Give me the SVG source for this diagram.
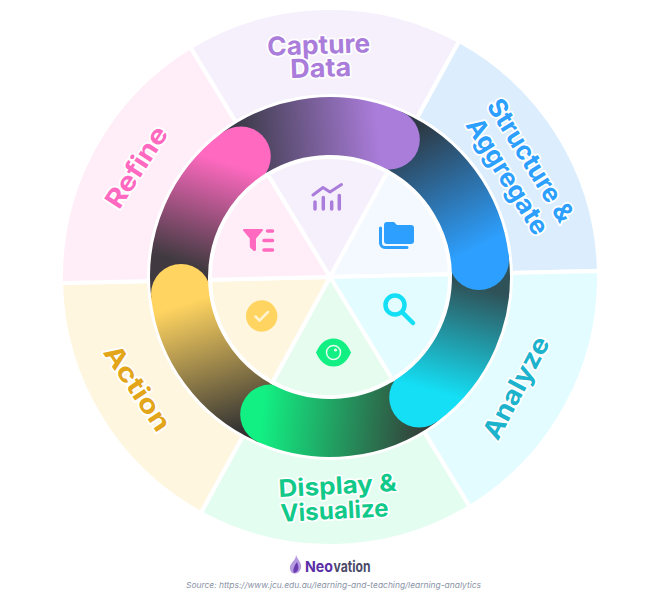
<svg xmlns="http://www.w3.org/2000/svg" width="660" height="605" viewBox="0 0 660 605">
<style>
.w{stroke:#fff;stroke-width:4;stroke-linejoin:miter}
.lab{font-family:Inter,"Liberation Sans",sans-serif;font-weight:700;font-size:26px;text-anchor:middle;stroke:#fff;stroke-width:3.5;stroke-linejoin:round;paint-order:stroke}
.arc{fill:none;stroke-width:60}
.src{font-family:Inter,"Liberation Sans",sans-serif;font-style:italic;font-size:8px;fill:#8a94a6}
.logo{font-family:Inter,"Liberation Sans",sans-serif;font-weight:700;font-size:15px}
</style>
<defs>
<path id="wo" d="M0,0L-134.500,-233A269,269 0 0 1 134.500,-233Z"/>
<path id="wi" d="M0,0L-60,-103.900A120,120 0 0 1 60,-103.900Z"/>
<linearGradient id="gp" gradientUnits="userSpaceOnUse" x1="240" y1="154" x2="380" y2="140"><stop offset="0" stop-color="#3b3a48"/><stop offset="1" stop-color="#ab7ddb"/></linearGradient>
<linearGradient id="gb" gradientUnits="userSpaceOnUse" x1="415" y1="130" x2="475" y2="250"><stop offset="0" stop-color="#2d3a45"/><stop offset="1" stop-color="#2da0ff"/></linearGradient>
<linearGradient id="gc" gradientUnits="userSpaceOnUse" x1="449.500" y1="280" x2="421" y2="388"><stop offset="0" stop-color="#2f5258"/><stop offset="1" stop-color="#14dff5"/></linearGradient>
<linearGradient id="gg" gradientUnits="userSpaceOnUse" x1="430" y1="431" x2="262" y2="414"><stop offset="0" stop-color="#363636"/><stop offset="1" stop-color="#12f083"/></linearGradient>
<linearGradient id="gy" gradientUnits="userSpaceOnUse" x1="225.500" y1="435" x2="184" y2="304"><stop offset="0" stop-color="#333"/><stop offset="1" stop-color="#ffd460"/></linearGradient>
<linearGradient id="gk" gradientUnits="userSpaceOnUse" x1="205" y1="270" x2="238" y2="166"><stop offset="0" stop-color="#403a40"/><stop offset="1" stop-color="#ff69c0"/></linearGradient>
</defs>
<rect width="660" height="605" fill="#fff"/>
<g id="connectors">
<use href="#wo" class="w" fill="#f6f0fc" transform="translate(330,277) rotate(-1.300)"/>
<use href="#wo" class="w" fill="#dceefe" transform="translate(330,277) rotate(58.700)"/>
<use href="#wo" class="w" fill="#e2fcff" transform="translate(330,277) rotate(118.700)"/>
<use href="#wo" class="w" fill="#e3fdf0" transform="translate(330,277) rotate(178.700)"/>
<use href="#wo" class="w" fill="#fff6e0" transform="translate(330,277) rotate(238.700)"/>
<use href="#wo" class="w" fill="#ffeef8" transform="translate(330,277) rotate(298.700)"/>
<circle cx="330" cy="277" r="183" fill="#fff"/>
<path class="arc" stroke="url(#gp)" d="M240.800,156.400A150,150 0 0 1 389.800,139.400"/>
<path class="arc" stroke="url(#gb)" d="M389.800,139.400A150,150 0 0 1 479,260"/>
<path class="arc" stroke="url(#gc)" d="M479,260A150,150 0 0 1 419.200,397.600"/>
<path class="arc" stroke="url(#gg)" d="M419.200,397.600A150,150 0 0 1 270.200,414.600"/>
<path class="arc" stroke="url(#gy)" d="M270.200,414.600A150,150 0 0 1 181,294"/>
<path class="arc" stroke="url(#gk)" d="M181,294A150,150 0 0 1 240.800,156.400"/>
<circle cx="389.800" cy="139.400" r="30" fill="url(#gp)"/>
<circle cx="479" cy="260" r="30" fill="url(#gb)"/>
<circle cx="419.200" cy="397.600" r="30" fill="url(#gc)"/>
<circle cx="270.200" cy="414.600" r="30" fill="url(#gg)"/>
<circle cx="181" cy="294" r="30" fill="url(#gy)"/>
<circle cx="240.800" cy="156.400" r="30" fill="url(#gk)"/>
<circle cx="330" cy="277" r="120" fill="#fff"/>
</g>
<g id="capture">
<use href="#wi" class="w" fill="#f6f0fc" transform="translate(330,277) rotate(-1.300)"/>
<text class="lab" fill="#ab7ddb" textLength="103" lengthAdjust="spacingAndGlyphs" transform="translate(319,54) rotate(-2)">Capture</text>
<text class="lab" fill="#ab7ddb" textLength="61" lengthAdjust="spacingAndGlyphs" transform="translate(321,77) rotate(-2)">Data</text>
<path d="M313,195L323,187.500L330,192L341.500,184.500" fill="none" stroke="#ab7ddb" stroke-width="3" stroke-linecap="round" stroke-linejoin="round"/>
<path d="M315,202V209M323.300,197.500V209M331.700,202V209M339.300,195.500V209" fill="none" stroke="#ab7ddb" stroke-width="3.500" stroke-linecap="round"/>
</g>
<g id="structure">
<use href="#wi" class="w" fill="#f3f9fe" transform="translate(330,277) rotate(58.700)"/>
<text class="lab" fill="#2da0ff" textLength="140" lengthAdjust="spacingAndGlyphs" transform="translate(523,165) rotate(58)">Structure &amp;</text>
<text class="lab" fill="#2da0ff" textLength="132" lengthAdjust="spacingAndGlyphs" transform="translate(500,181) rotate(58)">Aggregate</text>
<path d="M384,225a3,3 0 0 1 3,-3h7l3,3h14a3,3 0 0 1 3,3v13a3,3 0 0 1 -3,3h-24a3,3 0 0 1 -3,-3Z" fill="#2da0ff"/>
<path d="M380.500,228V243a4.500,4.500 0 0 0 4.500,4.500H407" fill="none" stroke="#2da0ff" stroke-width="3" stroke-linecap="round"/>
</g>
<g id="analyze">
<use href="#wi" class="w" fill="#e2fcff" transform="translate(330,277) rotate(118.700)"/>
<text class="lab" fill="#1db3cc" textLength="112" lengthAdjust="spacingAndGlyphs" transform="translate(524,392) rotate(-62)">Analyze</text>
<circle cx="395" cy="305" r="9.500" fill="none" stroke="#14dff5" stroke-width="4.500"/>
<path d="M403,313L413,323" stroke="#14dff5" stroke-width="4.500" stroke-linecap="round"/>
</g>
<g id="display">
<use href="#wi" class="w" fill="#e5fcef" transform="translate(330,277) rotate(178.700)"/>
<text class="lab" fill="#12c98a" textLength="118" lengthAdjust="spacingAndGlyphs" style="font-size:24px" transform="translate(338,494) rotate(-3)">Display &amp;</text>
<text class="lab" fill="#12c98a" textLength="108" lengthAdjust="spacingAndGlyphs" style="font-size:24px" transform="translate(335,519) rotate(-3)">Visualize</text>
<path d="M316,352.500Q322,338.500 333.500,338.500T351,352.500Q345,366.500 333.500,366.500T316,352.500Z" fill="#12f083"/>
<circle cx="333.500" cy="352.500" r="7" fill="none" stroke="#e5fcef" stroke-width="1.500"/>
<circle cx="335.500" cy="350" r="1.600" fill="#e5fcef"/>
</g>
<g id="action">
<use href="#wi" class="w" fill="#fff6e0" transform="translate(330,277) rotate(238.700)"/>
<text class="lab" fill="#e3a51a" textLength="98" lengthAdjust="spacingAndGlyphs" transform="translate(130,393) rotate(56)">Action</text>
<circle cx="261.700" cy="316" r="15.700" fill="#ffd460"/>
<path d="M255.500,316.500L259.500,320.500L268,312" fill="none" stroke="#fff3d0" stroke-width="2.500" stroke-linecap="round" stroke-linejoin="round"/>
</g>
<g id="refine">
<use href="#wi" class="w" fill="#ffeef8" transform="translate(330,277) rotate(298.700)"/>
<text class="lab" fill="#ff69c0" textLength="92" lengthAdjust="spacingAndGlyphs" transform="translate(144,172) rotate(-57)">Refine</text>
<path d="M244,229H262a1,1 0 0 1 .7,1.700L256,238.500V249.500a1.500,1.500 0 0 1 -2.500,1.200L250.500,248a2,2 0 0 1 -.7,-1.500V238.500L243.300,230.700a1,1 0 0 1 .7,-1.700Z" fill="#ff69c0"/>
<path d="M267.500,231H272.500M264,240.500H272.500M264,250H272.500" stroke="#ff69c0" stroke-width="3.500" stroke-linecap="round"/>
</g>
<g id="logo">
<path d="M296,555C298,560 302,563 301,568C300,572 297,574 294,573.500C291,573 289.500,570 290,566.500C291,562 296,560 296,555Z" fill="#b79be0"/>
<path d="M297,562C298,565 299,567 298,570C297,572 295,573 294,573C292.500,570 294,566 297,562Z" fill="#6a3cb0"/>
<text class="logo" x="305" y="572" fill="#5a2ea6" textLength="28" lengthAdjust="spacingAndGlyphs">Neo</text>
<text class="logo" x="333.500" y="572" fill="#4a4a68" textLength="37" lengthAdjust="spacingAndGlyphs">vation</text>
<text class="src" x="186" y="588" textLength="295" lengthAdjust="spacingAndGlyphs">Source: https://www.jcu.edu.au/learning-and-teaching/learning-analytics</text>
</g>
</svg>
